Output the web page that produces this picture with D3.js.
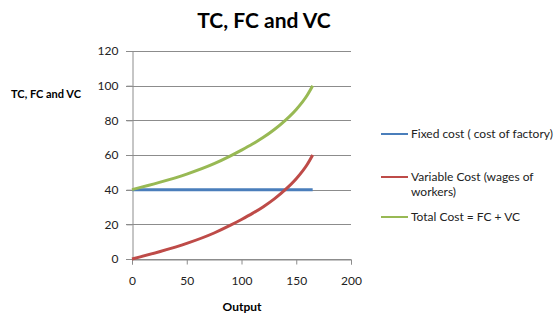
<!DOCTYPE html>
<html>
<head>
<meta charset="utf-8">
<script src="https://cdn.jsdelivr.net/npm/d3@7/dist/d3.min.js"></script>
<style>
  html, body { margin: 0; padding: 0; background: #fff; }
  svg { display: block; font-family: Lato, "Open Sans", sans-serif; }
</style>
</head>
<body>
<svg id="chart" width="560" height="328"></svg>
<script>
// Output levels and cost curves
const output = [0, 25, 50, 75, 90, 100, 110, 120, 130, 140, 150, 160, 165];
const fixedCost = [40, 40, 40, 40, 40, 40, 40, 40, 40, 40, 40, 40, 40];
const variableCost = [0, 4.2, 9, 15, 19.5, 22.8, 26.3, 30.2, 34.7, 40, 46.3, 54.5, 60];
const totalCost = [40, 44.2, 49, 55, 59.5, 62.8, 66.3, 70.2, 74.7, 80, 86.3, 94.5, 100];

const xTicks = [0, 50, 100, 150, 200];
const yTicks = [0, 20, 40, 60, 80, 100, 120];

const seriesColors = ["#4A7EBB", "#BE4B48", "#98B954"];

const svg = d3.select("#chart");
const plot = { left: 132, right: 351, top: 51, bottom: 259 };

const x = d3.scaleLinear().domain([0, 200]).range([plot.left, plot.right]);
const y = d3.scaleLinear().domain([0, 120]).range([plot.bottom, plot.top]);

// Title
svg.append("text")
  .attr("x", 264).attr("y", 28)
  .attr("text-anchor", "middle")
  .attr("font-size", 21).attr("font-weight", "bold")
  .attr("fill", "#000")
  .text("TC, FC and VC");

// Horizontal gridlines
svg.append("g")
  .selectAll("line")
  .data(yTicks)
  .join("line")
  .attr("x1", plot.left - 6).attr("x2", plot.right)
  .attr("y1", d => Math.round(y(d)) + 0.5).attr("y2", d => Math.round(y(d)) + 0.5)
  .attr("stroke", "#8c8c8c").attr("stroke-width", 1);

// Y axis
const yAxis = svg.append("g")
  .attr("transform", `translate(${plot.left + 0.5},0)`)
  .call(d3.axisLeft(y).tickValues(yTicks).tickSize(6).tickPadding(8));
yAxis.select(".domain").attr("stroke", "#8c8c8c");
yAxis.selectAll(".tick line").attr("stroke", "#8c8c8c");
yAxis.selectAll(".tick text").attr("font-size", 12).attr("fill", "#222").attr("font-family", "Lato, sans-serif");

// X axis
const xAxis = svg.append("g")
  .attr("transform", `translate(0,${Math.round(y(0)) + 0.5})`)
  .call(d3.axisBottom(x).tickValues(xTicks).tickSize(5).tickPadding(12));
xAxis.select(".domain").attr("stroke", "#8c8c8c");
xAxis.selectAll(".tick line").attr("stroke", "#8c8c8c");
xAxis.selectAll(".tick text").attr("font-size", 12).attr("fill", "#222").attr("font-family", "Lato, sans-serif");

// Axis titles
svg.append("text")
  .attr("x", 46).attr("y", 98)
  .attr("text-anchor", "middle")
  .attr("font-size", 11).attr("font-weight", "bold")
  .text("TC, FC and VC");

svg.append("text")
  .attr("x", 242).attr("y", 311)
  .attr("text-anchor", "middle")
  .attr("font-size", 12).attr("font-weight", "bold")
  .text("Output");

// Cost curves
const seriesData = [fixedCost, variableCost, totalCost];
const line = d3.line()
  .x(d => x(d[0]))
  .y(d => y(d[1]))
  .curve(d3.curveMonotoneX);

svg.append("g")
  .selectAll("path")
  .data(seriesData)
  .join("path")
  .attr("d", vals => line(output.map((o, i) => [o, vals[i]])))
  .attr("fill", "none")
  .attr("stroke", (d, i) => seriesColors[i])
  .attr("stroke-width", 3)
  .attr("stroke-linecap", "butt");

// Legend
const legendRows = [
  { y: 134, lines: ["Fixed cost ( cost of factory)"] },
  { y: 177, lines: ["Variable Cost (wages of", "workers)"] },
  { y: 217, lines: ["Total Cost = FC + VC"] }
];
const legend = svg.append("g");
legendRows.forEach((row, i) => {
  legend.append("line")
    .attr("x1", 381).attr("x2", 408)
    .attr("y1", row.y).attr("y2", row.y)
    .attr("stroke", seriesColors[i]).attr("stroke-width", 2);
  const t = legend.append("text")
    .attr("x", 411).attr("y", row.y + 4)
    .attr("font-size", 12).attr("fill", "#222");
  row.lines.forEach((ln, j) => {
    t.append("tspan").attr("x", 411).attr("dy", j === 0 ? 0 : 14.5).text(ln);
  });
});
</script>
</body>
</html>
